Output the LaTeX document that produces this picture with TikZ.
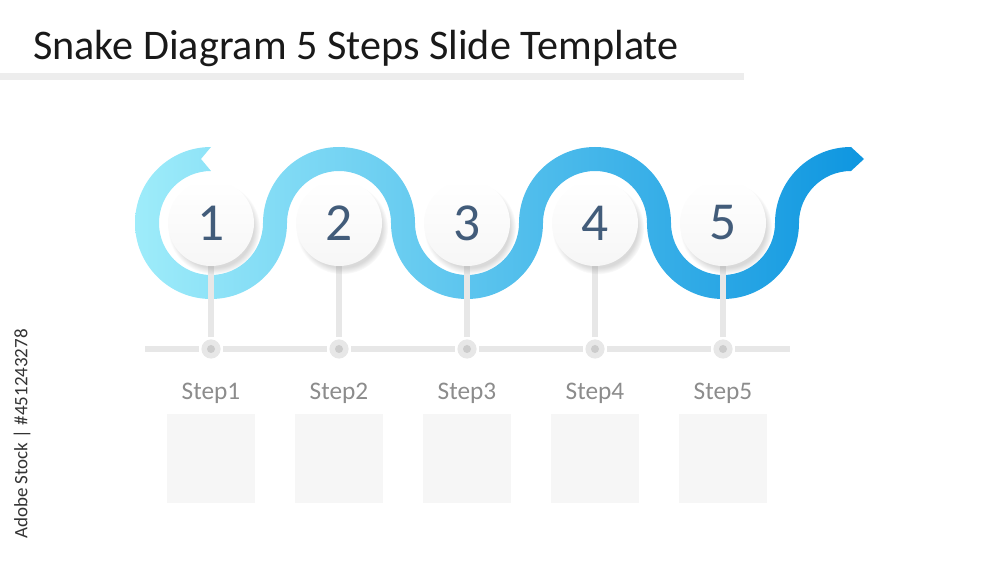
\documentclass[tikz,border=0pt]{standalone}
\usepackage{fontspec}
\setmainfont{Carlito}
\usetikzlibrary{shadows}
\definecolor{snakeL}{RGB}{158,236,250}
\definecolor{snakeR}{RGB}{14,150,224}
\definecolor{numc}{RGB}{66,92,122}
\definecolor{linec}{RGB}{231,231,231}
\definecolor{dotc}{RGB}{204,204,204}
\definecolor{boxc}{RGB}{246,246,246}
\definecolor{stepc}{RGB}{140,140,140}
\begin{document}
\begin{tikzpicture}[x=0.025cm, y=0.025cm, line join=round, line cap=round,
    num/.style={circle, minimum size=2.15cm, inner sep=0, top color=white, bottom color=gray!7,
        circular drop shadow={shadow xshift=2pt, shadow yshift=-3.5pt, opacity=.3, shadow scale=1.07},
        text=numc, font=\fontsize{38}{40}\selectfont},
    dot/.style={circle, minimum size=0.48cm, inner sep=0, fill=linec, outer sep=0.06cm,
        path picture={\fill[dotc] (path picture bounding box.center) circle(0.1cm);}},
    stem/.style={linec, line width=0.17cm, line cap=butt},
    stepbox/.style={fill=boxc, minimum width=2.175cm, minimum height=2.225cm, inner sep=0},
    steplabel/.style={text=stepc, font=\fontsize{18}{20}\selectfont}]
\useasboundingbox (0,0) rectangle (1000,-563);
% title and bar
\node[anchor=base west, inner sep=0, text=black!90, font=\fontsize{30}{34}\selectfont] (title) at (33,-60) {Snake Diagram 5 Steps Slide Template};
\fill[linec!75] (0,-73) rectangle (744,-80);
% stock id
\node[rotate=90, text=black!80, font=\fontsize{13.5}{16}\selectfont] (stock) at (22,-434) {Adobe Stock | \#451243278};
% snake band
\shade[left color=snakeL, right color=snakeR]
    (211,-171) arc[start angle=90, end angle=360, radius=52]
    arc[start angle=180, end angle=0, radius=76]
    arc[start angle=180, end angle=360, radius=52]
    arc[start angle=180, end angle=0, radius=76]
    arc[start angle=180, end angle=360, radius=52]
    arc[start angle=180, end angle=90, radius=76]
    -- (864,-159) -- (851,-171)
    arc[start angle=90, end angle=180, radius=52]
    arc[start angle=360, end angle=180, radius=76]
    arc[start angle=0, end angle=180, radius=52]
    arc[start angle=360, end angle=180, radius=76]
    arc[start angle=0, end angle=180, radius=52]
    arc[start angle=360, end angle=90, radius=76]
    -- (201,-159) -- cycle;
% timeline
\coordinate (h0) at (145,-349);
\coordinate (h6) at (790,-349);
\foreach \i [evaluate=\i as \x using 83+128*\i] in {1,...,5}{
    \node[dot] (d\i) at (\x,-349) {};
    \node[steplabel] (s\i) at (\x,-393) {Step\i};
    \node[stepbox] (b\i) at (\x,-458.5) {};
}
\draw[stem] (h0) -- (d1.west) (d1.east) -- (d2.west) (d2.east) -- (d3.west)
    (d3.east) -- (d4.west) (d4.east) -- (d5.west) (d5.east) -- (h6);
\foreach \i [evaluate=\i as \x using 83+128*\i] in {1,...,5}{
    \draw[stem] (\x,-250) -- (d\i.north);
    \node[num] (c\i) at (\x,-223) {\i};
}
\end{tikzpicture}
\end{document}
